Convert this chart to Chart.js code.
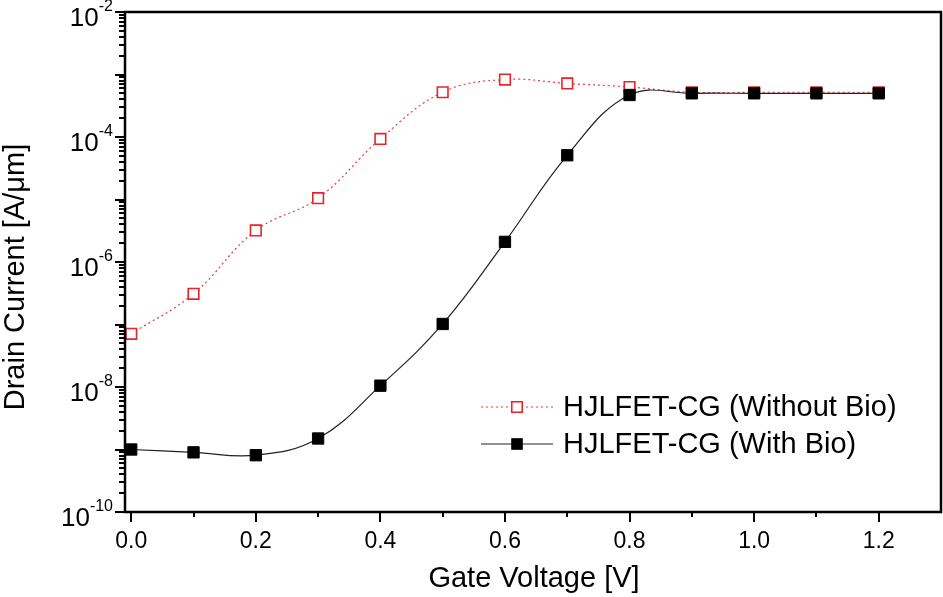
<!DOCTYPE html>
<html>
<head>
<meta charset="utf-8">
<script src="https://cdn.jsdelivr.net/npm/chart.js@4"></script>
<style>
  html, body { margin: 0; padding: 0; background: #fff; }
  #wrap { width: 943px; height: 597px; }
</style>
</head>
<body>
<div id="wrap"><canvas id="c" width="943" height="597"></canvas></div>
<script>
// ---- data ----
const gateVoltage = [0.0, 0.1, 0.2, 0.3, 0.4, 0.5, 0.6, 0.7, 0.8, 0.9, 1.0, 1.1, 1.2];
const currentWithoutBio = [7.1e-8, 3.1e-7, 3.2e-6, 1.05e-5, 9.3e-5, 5.2e-4, 8.3e-4, 7.2e-4, 6.3e-4, 5.2e-4, 5.2e-4, 5.2e-4, 5.2e-4];
const currentWithBio = [1.0e-9, 9.0e-10, 8.1e-10, 1.5e-9, 1.05e-8, 1.02e-7, 2.1e-6, 5.1e-5, 4.7e-4, 5.0e-4, 5.0e-4, 5.0e-4, 5.0e-4];
const seriesNames = ['HJLFET-CG (Without Bio)', 'HJLFET-CG (With Bio)'];
const xMajorTicks = [0.0, 0.2, 0.4, 0.6, 0.8, 1.0, 1.2];
const xMajorLabels = ['0.0', '0.2', '0.4', '0.6', '0.8', '1.0', '1.2'];
const xMinorTicks = [0.1, 0.3, 0.5, 0.7, 0.9, 1.1];
const yDecadeExponents = [-10, -9, -8, -7, -6, -5, -4, -3, -2];
const yLabelExponents = [-10, -8, -6, -4, -2];
const xTitle = 'Gate Voltage [V]';
const yTitle = 'Drain Current [A/\u03bcm]';

const FONT = '"Liberation Sans", Arial, sans-serif';

const toPoints = (xs, ys) => xs.map((x, i) => ({ x: x, y: ys[i] }));

const axesPlugin = {
  id: 'axesPlugin',
  afterDraw(chart) {
    const ctx = chart.ctx;
    const xs = chart.scales.x, ys = chart.scales.y;
    const a = chart.chartArea;
    ctx.save();
    ctx.strokeStyle = '#000';
    ctx.fillStyle = '#000';
    // frame
    ctx.lineWidth = 2.5;
    ctx.strokeRect(a.left, a.top, a.right - a.left, a.bottom - a.top);
    ctx.lineWidth = 2;
    // x ticks
    xMajorTicks.forEach(v => {
      const px = Math.round(xs.getPixelForValue(v));
      ctx.beginPath(); ctx.moveTo(px, a.bottom); ctx.lineTo(px, a.bottom + 10); ctx.stroke();
    });
    xMinorTicks.forEach(v => {
      const px = Math.round(xs.getPixelForValue(v));
      ctx.beginPath(); ctx.moveTo(px, a.bottom); ctx.lineTo(px, a.bottom + 5); ctx.stroke();
    });
    // y ticks
    yDecadeExponents.forEach((e, i) => {
      const py = Math.round(ys.getPixelForValue(Math.pow(10, e)));
      ctx.beginPath(); ctx.moveTo(a.left - 10, py); ctx.lineTo(a.left, py); ctx.stroke();
      if (i < yDecadeExponents.length - 1) {
        for (let m = 2; m <= 9; m++) {
          const pm = Math.round(ys.getPixelForValue(m * Math.pow(10, e)));
          ctx.beginPath(); ctx.moveTo(a.left - 6, pm); ctx.lineTo(a.left, pm); ctx.stroke();
        }
      }
    });
    // x tick labels
    ctx.font = '23px ' + FONT;
    ctx.textAlign = 'center';
    ctx.textBaseline = 'middle';
    xMajorTicks.forEach((v, i) => {
      ctx.fillText(xMajorLabels[i], xs.getPixelForValue(v), a.bottom + 30);
    });
    // y tick labels with superscript exponent
    yLabelExponents.forEach(e => {
      const py = ys.getPixelForValue(Math.pow(10, e));
      const expTxt = '-' + String(Math.abs(e));
      ctx.font = '16px ' + FONT;
      const ew = ctx.measureText(expTxt).width;
      const right = a.left - 12;
      ctx.textAlign = 'left';
      ctx.textBaseline = 'alphabetic';
      ctx.fillText(expTxt, right - ew, py - 1);
      ctx.font = '26px ' + FONT;
      const bw = ctx.measureText('10').width;
      ctx.fillText('10', right - ew - bw, py + 14);
    });
    // axis titles
    ctx.font = '29px ' + FONT;
    ctx.textAlign = 'center';
    ctx.textBaseline = 'middle';
    ctx.fillText(xTitle, 534, 579);
    ctx.save();
    ctx.translate(16, 277);
    ctx.rotate(-Math.PI / 2);
    ctx.fillText(yTitle, 0, 0);
    ctx.restore();
    ctx.restore();
  }
};

const legendPlugin = {
  id: 'insideLegend',
  afterDraw(chart) {
    const ctx = chart.ctx;
    const rows = [
      { ds: chart.data.datasets[0], y: 407 },
      { ds: chart.data.datasets[1], y: 444 }
    ];
    ctx.save();
    rows.forEach(r => {
      const ds = r.ds;
      ctx.strokeStyle = ds.borderColor;
      ctx.lineWidth = ds.borderWidth;
      ctx.setLineDash(ds.borderDash || []);
      ctx.beginPath(); ctx.moveTo(481, r.y); ctx.lineTo(553, r.y); ctx.stroke();
      ctx.setLineDash([]);
      const s = 10.5;
      ctx.fillStyle = ds.pointBackgroundColor;
      ctx.fillRect(517 - s / 2, r.y - s / 2, s, s);
      ctx.strokeStyle = ds.pointBorderColor;
      ctx.lineWidth = ds.pointBorderWidth;
      ctx.strokeRect(517 - s / 2, r.y - s / 2, s, s);
      ctx.fillStyle = '#000';
      ctx.font = '29px ' + FONT;
      ctx.textAlign = 'left';
      ctx.textBaseline = 'middle';
      ctx.fillText(ds.label, 563, r.y + 1);
    });
    ctx.restore();
  }
};

new Chart(document.getElementById('c'), {
  type: 'line',
  data: {
    datasets: [
      {
        label: seriesNames[0],
        data: toPoints(gateVoltage, currentWithoutBio),
        borderColor: '#ee3a3a',
        borderWidth: 1.2,
        borderDash: [2, 3],
        tension: 0.4,
        pointStyle: 'rect',
        pointRadius: 7.5,
        pointBackgroundColor: '#ffffff',
        pointBorderColor: '#e8242a',
        pointBorderWidth: 1.6,
        order: 1
      },
      {
        label: seriesNames[1],
        data: toPoints(gateVoltage, currentWithBio),
        borderColor: '#222222',
        borderWidth: 1.2,
        tension: 0.4,
        pointStyle: 'rect',
        pointRadius: 8,
        pointBackgroundColor: '#000000',
        pointBorderColor: '#000000',
        pointBorderWidth: 1,
        order: 0
      }
    ]
  },
  options: {
    responsive: false,
    animation: false,
    devicePixelRatio: 1,
    layout: { autoPadding: false, padding: { left: 125, top: 12, right: 2, bottom: 85 } },
    plugins: { legend: { display: false }, tooltip: { enabled: false } },
    scales: {
      x: { type: 'linear', min: -0.01, max: 1.3, display: false },
      y: { type: 'logarithmic', min: 1e-10, max: 1e-2, display: false }
    }
  },
  plugins: [axesPlugin, legendPlugin]
});
</script>
</body>
</html>
